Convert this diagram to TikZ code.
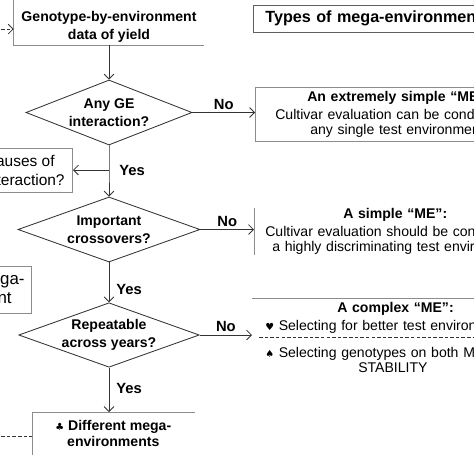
\documentclass[tikz,border=0pt]{standalone}
\usepackage{fontspec}
\setmainfont{Liberation Sans}
\newfontfamily\suitfont{DejaVu Sans}
\usepackage{tikz}
\usetikzlibrary{arrows.meta,positioning,shapes.geometric,calc}
\definecolor{linegrey}{HTML}{333333}
\definecolor{boxgrey}{HTML}{8C8C8C}
\definecolor{framegrey}{HTML}{606060}
\newcommand{\suit}[1]{{\suitfont\fontsize{7}{7}\selectfont #1}}
\tikzset{
  flowbox/.style={
    rectangle, inner sep=0pt, align=center,
    font=\fontsize{10}{12.5}\selectfont\bfseries
  },
  notebox/.style={
    rectangle, inner ysep=0pt, align=left, text width=#1,
    font=\fontsize{10}{10.5}\selectfont
  },
  notebox/.default=6cm,
  sidebox/.style={
    rectangle, draw=boxgrey, line width=0.6pt, inner ysep=0pt, align=right
  },
  decision/.style={
    diamond, draw=linegrey, line width=0.6pt, inner sep=0pt, align=center,
    font=\fontsize{10}{12.5}\selectfont\bfseries
  },
  boxline/.style={draw=boxgrey, line width=0.6pt},
  dashline/.style={draw=linegrey, line width=0.6pt, dash pattern=on 2.5pt off 1.5pt},
  flowarrow/.style={-{Straight Barb[length=3.5pt,width=7pt]}, line width=0.6pt, draw=linegrey},
  answer/.style={font=\fontsize{10.5}{12}\selectfont\bfseries, inner sep=2pt}
}

\begin{document}
\begin{tikzpicture}[x=0.025cm, y=-0.025cm]
\useasboundingbox (0,0) rectangle (474,474);
\clip (0,0) rectangle (474,474);

% decision column
\node[flowbox, minimum width=4.75cm, minimum height=0.9cm] (geno) at (109,27) {Genotype-by-environment\\data of yield};
\node[decision, minimum width=4.15cm, minimum height=1.625cm, aspect=2.6] (ge) at (109,112.5) {Any GE\\interaction?};
\node[decision, minimum width=4.55cm, minimum height=1.625cm, aspect=2.8] (cross) at (109,229.5) {Important\\crossovers?};
\node[decision, minimum width=4.475cm, minimum height=1.6cm, aspect=2.8] (repeat) at (109,335) {Repeatable\\across years?};
\node[flowbox, anchor=north west, minimum width=4.05cm, minimum height=1.05cm,
  font=\fontsize{10}{11.5}\selectfont\bfseries] (diff) at (32,412) {\suit{♣} Different mega-\\environments};

% left side boxes
\node[sidebox, anchor=east, minimum height=1.1cm, inner xsep=0.2cm,
  font=\fontsize{11}{13.5}\selectfont] (causes) at (73,170) {causes of\rule{0.25cm}{0pt}\\interaction?};
\node[sidebox, anchor=east, minimum height=1.175cm, inner xsep=0.175cm,
  font=\fontsize{12}{13}\selectfont] (mega) at (32,289.5) {ga-\\nt\rule{0.325cm}{0pt}};

% types of mega-environments
\node[rectangle, draw=framegrey, line width=0.6pt, anchor=west, minimum height=0.675cm,
  text width=7cm, align=left, inner xsep=0.3cm,
  font=\fontsize{11.5}{13}\selectfont\bfseries] (types) at (253,18.5) {Types of mega-environmen};
\node[notebox, anchor=west, minimum height=1.325cm, inner xsep=0.5cm] (extreme) at (255,114.5)
  {\hspace*{0.8cm}\textbf{An extremely simple “ME”}\\[2pt]Cultivar evaluation can be condu\\\hspace*{0.875cm}any single test environmen};
\node[notebox, anchor=west, minimum height=1.175cm, inner xsep=0.275cm] (simple) at (254,231.5)
  {\hspace*{1.95cm}\textbf{A simple “ME”:}\\[2pt]Cultivar evaluation should be cond\\\hspace*{0.175cm}a highly discriminating test enviro};
\node[notebox, anchor=north west, minimum height=0.975cm, inner xsep=0.325cm] (complexA) at (252,298)
  {\hspace*{1.8cm}\textbf{A complex “ME”:}\\[2pt]\suit{♥} Selecting for better test environ};
\node[notebox, anchor=north west, minimum height=1.15cm, inner xsep=0.325cm] (complexB) at (252,337)
  {\suit{♠} Selecting genotypes on both ME\\\hspace*{2.325cm}STABILITY};

% box edges that show
\draw[boxline] (geno.south west) ++(0,-60) -- (geno.south west) -- (geno.south east);
\draw[boxline] (extreme.north east) -- (extreme.north west) -- (extreme.south west) -- (extreme.south east);
\draw[boxline] (simple.north west) -- (simple.south west);
\draw[boxline] (complexA.north west) -- (complexA.north east);
\draw[dashline] ([xshift=0.175cm]complexB.north west) -- (complexB.north east);
\draw[boxline] (diff.south west) -- (diff.north west) -- (diff.north east);

% connectors
\coordinate (topleft) at (-10,29);
\coordinate (botleft) at (-10,436);
\coordinate (split) at (109,170);
\draw[flowarrow, dash pattern=on 2.5pt off 1.5pt] (topleft) -- (topleft -| geno.west);
\draw[flowarrow] (geno) -- (ge);
\draw[flowarrow] (ge.east) -- node[answer, above] {No} (ge.east -| extreme.west);
\draw[flowarrow] (ge.south) -- (split) node[answer, right=5pt] {Yes} -- (cross.north);
\draw[flowarrow] (split) -- (split -| causes.east);
\draw[flowarrow] (cross.east) -- node[answer, above] {No} (cross.east -| simple.west);
\draw[flowarrow] (cross.south) -- node[answer, right=3pt, pos=0.68] {Yes} (repeat.north);
\draw[flowarrow] (repeat.east) -- node[answer, above] {No} (repeat.east -| complexA.west);
\draw[flowarrow] (repeat.south) -- node[answer, right=3pt, pos=0.47] {Yes} (repeat.south |- diff.north);
\draw[dashline] (botleft) -- (botleft -| diff.west);
\end{tikzpicture}
\end{document}
